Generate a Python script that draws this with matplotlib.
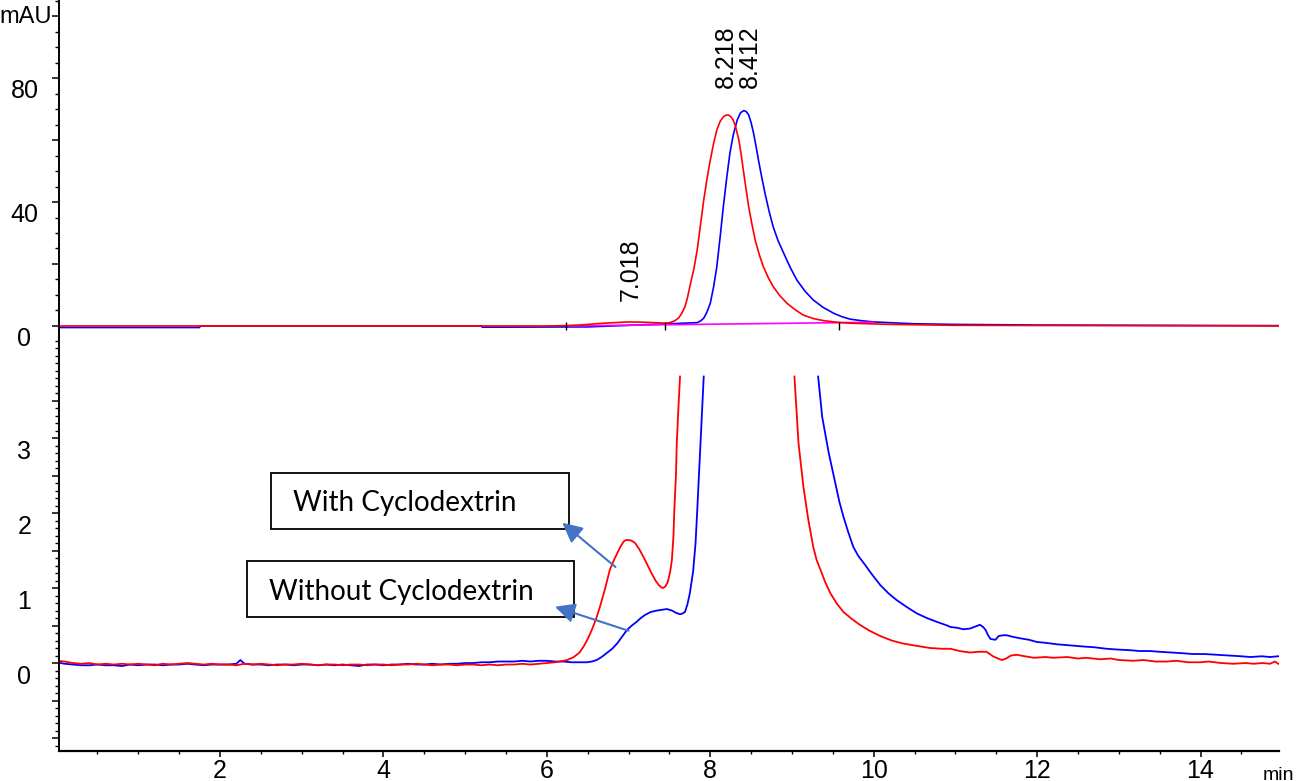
import numpy as np
import matplotlib
matplotlib.use("Agg")
import matplotlib.pyplot as plt
from matplotlib.patches import Rectangle
from matplotlib.ticker import FixedLocator, MultipleLocator

plt.rcParams['font.family'] = ['Liberation Sans', 'DejaVu Sans']

# ---- top panel (full scale, mAU) ----
red_top_t = [0.0, 6.0, 6.2, 6.4, 6.7, 7.0, 7.2, 7.45, 7.51, 7.56, 7.61, 7.65, 7.69, 7.72, 7.75,
             7.80, 7.84, 7.88, 7.92, 7.96, 8.00, 8.04, 8.08, 8.12, 8.16, 8.19, 8.22, 8.25,
             8.28, 8.31, 8.35, 8.38, 8.41, 8.44, 8.47, 8.51, 8.55, 8.60, 8.65, 8.71, 8.77,
             8.85, 8.94, 9.04, 9.14, 9.26, 9.39, 9.55, 9.7, 10.2, 11.0, 15.0]
red_top = [0.0, 0.0, 0.1, 0.3, 0.9, 1.3, 1.2, 0.9, 1.1, 1.6, 2.5, 4.0, 6.2, 9.0, 12.7,
           18.5, 24.5, 32.5, 40.6, 47.5, 53.5, 58.8, 63.2, 66.0, 67.5, 68.0, 68.1, 67.6,
           66.5, 64.3, 60.0, 55.0, 49.3, 43.8, 38.5, 32.8, 27.7, 23.0, 19.1, 15.6, 12.7,
           9.8, 7.3, 5.2, 3.5, 2.4, 1.7, 1.2, 0.9, 0.5, 0.2, 0.0]

blue_top_t = [0.0, 1.75, 1.76, 5.2, 5.21, 6.5, 7.0, 7.5, 7.84, 7.88, 7.92, 7.96, 8.00, 8.04,
              8.08, 8.12, 8.16, 8.20, 8.24, 8.28, 8.33, 8.37, 8.41, 8.44, 8.47, 8.50, 8.53,
              8.56, 8.59, 8.63, 8.67, 8.72, 8.77, 8.83, 8.90, 8.98, 9.06, 9.16, 9.26, 9.38,
              9.51, 9.61, 9.71, 9.85, 10.0, 10.5, 11.0, 12.0, 15.0]
blue_top = [-0.5, -0.5, 0.0, 0.0, -0.4, -0.3, 0.2, 0.7, 1.07, 1.6, 2.5, 4.5, 7.3, 12.5,
            19.1, 28.5, 38.5, 47.5, 55.7, 61.5, 66.5, 68.8, 69.5, 69.2, 68.1, 65.6, 62.2,
            58.0, 53.5, 48.0, 42.8, 37.0, 32.0, 27.5, 23.4, 18.8, 14.8, 11.2, 8.4, 6.0,
            4.1, 3.0, 2.2, 1.7, 1.3, 0.7, 0.5, 0.3, 0.1]

base_t = [6.25, 10.0]
base_v = [0.0, 1.2]

integration_marks = [6.24, 7.45, 9.57]

peak_labels = ["7.018", "8.218", "8.412"]
peak_label_t = [7.03, 8.19, 8.48]
peak_label_v = [18.0, 87.0, 87.0]

# ---- bottom panel (zoomed, mAU) ----
nan = np.nan
red_bot_t = [0.0, 0.1, 0.2, 0.3, 0.4, 0.5, 0.6, 0.7, 0.8, 0.9, 1.0, 1.1, 1.2, 1.3, 1.4, 1.5,
             1.6, 1.7, 1.8, 1.9, 2.0, 2.1, 2.2, 2.3, 2.4, 2.5, 2.6, 2.7, 2.8, 2.9, 3.0, 3.1,
             3.2, 3.3, 3.4, 3.5, 3.6, 3.7, 3.8, 3.9, 4.0, 4.1, 4.2, 4.3, 4.4, 4.5, 4.6, 4.7,
             4.8, 4.9, 5.0, 5.1, 5.2, 5.3, 5.4, 5.5, 5.6, 5.7, 5.8, 5.9, 6.0, 6.1, 6.16,
             6.25, 6.33, 6.40, 6.45, 6.50, 6.55, 6.60, 6.65, 6.71, 6.77, 6.82, 6.86, 6.90,
             6.94, 6.97, 7.00, 7.04, 7.08, 7.13, 7.18, 7.23, 7.28, 7.33, 7.37, 7.40, 7.42,
             7.45, 7.48, 7.51, 7.53, 7.55, 7.56, 7.58, 7.59, 7.61, 7.63, 8.5,
             9.03, 9.08, 9.14, 9.20, 9.26, 9.30, 9.35, 9.41, 9.47, 9.55, 9.63, 9.73, 9.83,
             9.95, 10.08, 10.22, 10.36, 10.52, 10.69, 10.84, 10.94, 11.05, 11.18, 11.28,
             11.38, 11.46, 11.52, 11.57, 11.62, 11.68, 11.75, 11.85, 11.96, 12.1, 12.2,
             12.37, 12.5, 12.6, 12.77, 12.9, 13.0, 13.18, 13.3, 13.45, 13.59, 13.7, 13.85,
             14.0, 14.1, 14.25, 14.4, 14.55, 14.65, 14.76, 14.85, 14.91, 14.95]
red_bot = [0.03, 0.02, 0.00, -0.01, 0.00, -0.02, -0.01, -0.02, -0.01, -0.02, -0.01, -0.02,
           -0.03, -0.01, -0.02, -0.01, 0.00, -0.01, -0.02, -0.01, -0.02, -0.02, -0.03, -0.01,
           -0.02, -0.01, -0.02, -0.03, -0.02, -0.02, -0.01, -0.02, -0.03, -0.02, -0.02, -0.03,
           -0.02, -0.02, -0.03, -0.02, -0.02, -0.03, -0.02, -0.02, -0.01, -0.02, -0.03, -0.02,
           -0.02, -0.03, -0.02, -0.02, -0.03, -0.02, -0.03, -0.02, -0.02, -0.01, -0.02, -0.01,
           0.00, 0.01, 0.02, 0.04, 0.08, 0.14, 0.22, 0.32, 0.44, 0.58, 0.75, 0.98, 1.24, 1.37,
           1.46, 1.55, 1.62, 1.64, 1.64, 1.63, 1.60, 1.52, 1.42, 1.31, 1.20, 1.10, 1.04, 1.01,
           1.00, 1.02, 1.08, 1.22, 1.37, 1.70, 2.04, 2.50, 2.93, 3.40, 3.82, nan,
           3.82, 2.93, 2.35, 1.91, 1.55, 1.38, 1.24, 1.07, 0.93, 0.79, 0.68, 0.59, 0.51,
           0.43, 0.36, 0.30, 0.26, 0.23, 0.20, 0.19, 0.19, 0.16, 0.14, 0.15,
           0.15, 0.09, 0.06, 0.04, 0.06, 0.10, 0.11, 0.09, 0.07, 0.08, 0.07,
           0.08, 0.06, 0.07, 0.05, 0.06, 0.04, 0.03, 0.04, 0.02, 0.02, 0.03, 0.01,
           0.01, 0.02, 0.00, -0.01, 0.00, -0.01, 0.00, -0.01, 0.02, -0.01]

blue_bot_t = [0.0, 0.1, 0.2, 0.3, 0.4, 0.5, 0.6, 0.7, 0.8, 0.9, 1.0, 1.1, 1.2, 1.3, 1.4, 1.5,
              1.6, 1.7, 1.8, 1.9, 2.0, 2.1, 2.2, 2.25, 2.3, 2.4, 2.5, 2.6, 2.7, 2.8, 2.9, 3.0,
              3.1, 3.2, 3.3, 3.4, 3.5, 3.6, 3.7, 3.8, 3.9, 4.0, 4.1, 4.2, 4.3, 4.4, 4.5, 4.6,
              4.7, 4.8, 4.9, 5.0, 5.1, 5.2, 5.3, 5.4, 5.5, 5.6, 5.7, 5.8, 5.9, 6.0, 6.1, 6.2,
              6.3, 6.4, 6.49, 6.55, 6.61, 6.67, 6.73, 6.80, 6.86, 6.92, 6.98, 7.04, 7.10,
              7.15, 7.20, 7.27, 7.35, 7.41, 7.47, 7.53, 7.58, 7.63, 7.66, 7.69, 7.72, 7.75,
              7.79, 7.82, 7.84, 7.86, 7.88, 7.90, 7.92, 8.6,
              9.32, 9.37, 9.45, 9.53, 9.58, 9.63, 9.69, 9.75, 9.81, 9.88, 9.98, 10.08, 10.18,
              10.28, 10.40, 10.53, 10.65, 10.77, 10.90, 10.94, 11.02, 11.10, 11.18, 11.25,
              11.30, 11.34, 11.37, 11.40, 11.43, 11.49, 11.53, 11.58, 11.63, 11.70, 11.79,
              11.90, 12.00, 12.10, 12.24, 12.35, 12.45, 12.57, 12.70, 12.85, 12.98, 13.15,
              13.25, 13.38, 13.5, 13.65, 13.79, 13.9, 14.05, 14.2, 14.35, 14.5, 14.61, 14.75,
              14.85, 14.95]
blue_bot = [0.01, -0.01, -0.02, -0.03, -0.03, -0.02, -0.03, -0.03, -0.04, -0.02, -0.03, -0.02,
            -0.02, -0.03, -0.02, -0.02, -0.01, -0.02, -0.03, -0.02, -0.02, -0.02, -0.01, 0.04,
            -0.01, -0.02, -0.02, -0.03, -0.02, -0.02, -0.03, -0.02, -0.02, -0.03, -0.02, -0.03,
            -0.02, -0.03, -0.04, -0.02, -0.02, -0.03, -0.02, -0.02, -0.01, -0.02, -0.02, -0.01,
            -0.02, -0.01, -0.01, 0.00, 0.00, 0.01, 0.01, 0.02, 0.02, 0.02, 0.03, 0.02, 0.03,
            0.03, 0.02, 0.02, 0.01, 0.01, 0.01, 0.02, 0.04, 0.08, 0.13, 0.19, 0.26, 0.35, 0.44,
            0.50, 0.55, 0.60, 0.64, 0.68, 0.70, 0.71, 0.72, 0.70, 0.67, 0.65, 0.66, 0.68, 0.78,
            0.93, 1.22, 1.60, 2.02, 2.48, 2.92, 3.37, 3.82, nan,
            3.82, 3.28, 2.80, 2.40, 2.15, 1.95, 1.74, 1.55, 1.43, 1.33, 1.18, 1.04, 0.93,
            0.84, 0.75, 0.66, 0.60, 0.55, 0.50, 0.48, 0.47, 0.45, 0.46, 0.49,
            0.51, 0.48, 0.44, 0.37, 0.32, 0.31, 0.36, 0.37, 0.37, 0.35, 0.33,
            0.31, 0.28, 0.27, 0.25, 0.24, 0.23, 0.22, 0.21, 0.19, 0.18, 0.17,
            0.16, 0.16, 0.15, 0.14, 0.13, 0.12, 0.12, 0.11, 0.10, 0.09, 0.08, 0.09,
            0.08, 0.09]

# ---- annotations ----
note_labels = ["With Cyclodextrin", "Without Cyclodextrin"]
note_box_x = [(2.625, 6.27), (2.33, 6.33)]
note_box_y = [(1.787, 2.533), (0.613, 1.36)]
note_text_xy = [(2.895, 2.13), (2.60, 0.947)]
note_tip = [(6.19, 1.87), (6.10, 0.75)]
note_tail = [(6.84, 1.28), (7.00, 0.43)]

top_ticklabels = {0: "0", 40: "40", 80: "80"}
bot_ticklabels = [0, 1, 2, 3]
x_ticks = [2, 4, 6, 8, 10, 12, 14]

W, H = 1299, 781
fig = plt.figure(figsize=(W / 100, H / 100), dpi=100)
ax_top = fig.add_axes([59 / W, 1 - 343 / H, 1220 / W, 343 / H])
ax_bot = fig.add_axes([59 / W, 1 - 751 / H, 1220 / W, 408 / H])

RED, BLUE, MAG = "#ff0000", "#0000ff", "#ff00ff"
ARROW = "#4472c4"

for ax in (ax_top, ax_bot):
    ax.set_xlim(0.03, 14.96)
    ax.spines['top'].set_visible(False)
    ax.spines['right'].set_visible(False)
    ax.spines['left'].set_linewidth(1.4)
    ax.tick_params(axis='y', which='major', length=5, width=1.1, direction='out', labelleft=False)
    ax.tick_params(axis='y', which='minor', length=3, width=1.0, direction='out')

# top panel
ax_top.plot(blue_top_t, blue_top, color=BLUE, lw=1.2)
ax_top.plot(base_t, base_v, color=MAG, lw=1.2)
ax_top.plot(red_top_t, red_top, color=RED, lw=1.2)
ax_top.vlines(integration_marks, -1.2, 1.2, color="black", lw=1.0)
ax_top.set_ylim(-5.5, 105.2)
ax_top.spines['bottom'].set_visible(False)
ax_top.tick_params(axis='x', which='both', bottom=False, labelbottom=False)
ax_top.yaxis.set_major_locator(FixedLocator([0, 20, 40, 60, 80, 100]))
ax_top.yaxis.set_minor_locator(MultipleLocator(5))
for v, s in top_ticklabels.items():
    ax_top.annotate(s, xy=(0, v), xycoords=('axes fraction', 'data'), xytext=(-34.5, -13),
                    textcoords='offset pixels', ha='center', va='center', fontsize=18)
ax_top.annotate("mAU", xy=(0, 100), xycoords=('axes fraction', 'data'), xytext=(-7, -1),
                textcoords='offset pixels', ha='right', va='center', fontsize=17)
for s, t, v in zip(peak_labels, peak_label_t, peak_label_v):
    ax_top.text(t, v, s, rotation=90, ha='center', va='center', fontsize=18)

# bottom panel
ax_bot.plot(blue_bot_t, blue_bot, color=BLUE, lw=1.3)
ax_bot.plot(red_bot_t, red_bot, color=RED, lw=1.3)
ax_bot.set_ylim(-1.173, 4.267)
ax_bot.spines['bottom'].set_linewidth(1.6)
ax_bot.yaxis.set_major_locator(FixedLocator(np.arange(-1.0, 3.6, 0.5)))
ax_bot.yaxis.set_minor_locator(MultipleLocator(0.1))
for v in bot_ticklabels:
    ax_bot.annotate(str(v), xy=(0, v), xycoords=('axes fraction', 'data'), xytext=(-34.5, -14),
                    textcoords='offset pixels', ha='center', va='center', fontsize=18)
ax_bot.xaxis.set_major_locator(FixedLocator(x_ticks))
ax_bot.xaxis.set_minor_locator(MultipleLocator(0.5))
ax_bot.tick_params(axis='x', which='major', length=4.5, width=1.1, labelsize=18, pad=1.5)
ax_bot.tick_params(axis='x', which='minor', length=2.5, width=1.0)
fig.text(1263 / W, 1 - 775 / H, "min", ha='left', va='center', fontsize=14)

for lab, bx, by, txy, tip, tail in zip(note_labels, note_box_x, note_box_y, note_text_xy,
                                       note_tip, note_tail):
    ax_bot.add_patch(Rectangle((bx[0], by[0]), bx[1] - bx[0], by[1] - by[0], fill=True,
                               facecolor="white", edgecolor="black", lw=1.3, zorder=4))
    ax_bot.text(txy[0], txy[1], lab, ha='left', va='center', fontsize=20, family="Lato",
                zorder=5)
    ax_bot.annotate("", xy=tip, xytext=tail, zorder=6,
                    arrowprops=dict(arrowstyle="-|>,head_length=0.6,head_width=0.3",
                                    mutation_scale=20, color=ARROW, lw=1.5,
                                    shrinkA=0, shrinkB=0))

fig.savefig("out.png", dpi=100)
